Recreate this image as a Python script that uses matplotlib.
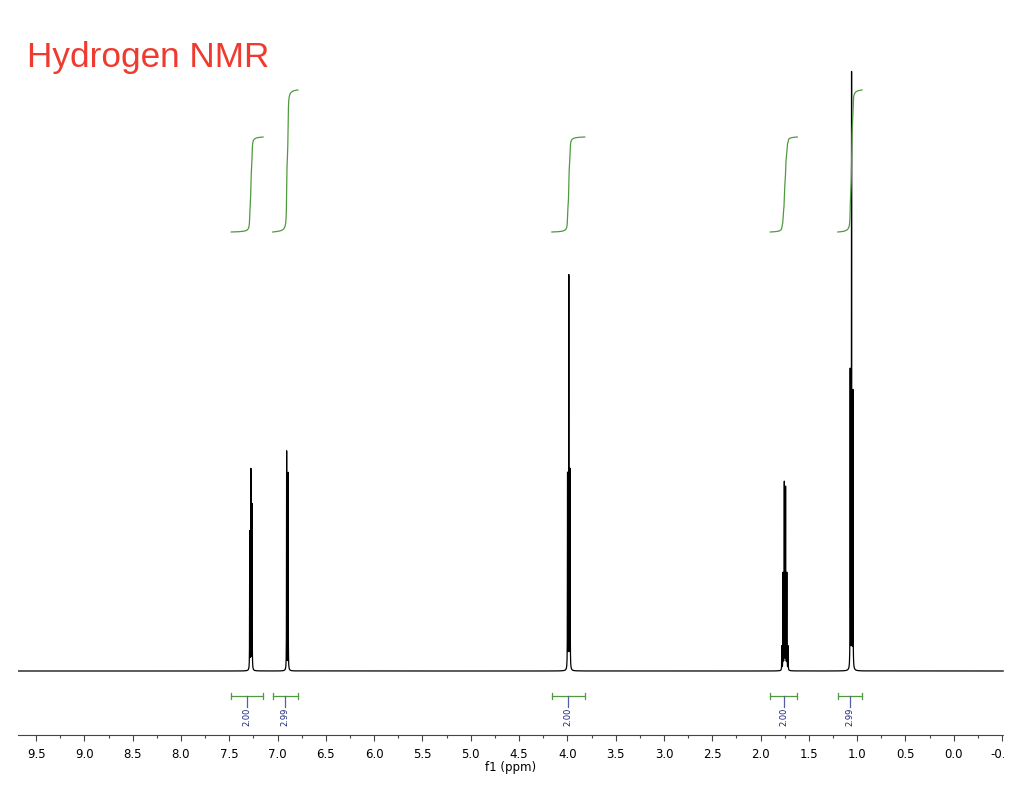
import numpy as np
import matplotlib
matplotlib.use('Agg')
from matplotlib import pyplot as plt
from matplotlib.patches import Rectangle

plt.rcParams['axes.unicode_minus'] = False

# Peak list (ppm, intensity)
peak_ppm = [7.288, 7.276, 7.264,
            6.906, 6.891,
            3.998, 3.985, 3.972,
            1.780, 1.767, 1.754, 1.741, 1.728, 1.715,
            1.072, 1.058, 1.044]
peak_height = [138, 200, 166,
               219, 198,
               196, 395, 200,
               24, 97, 188, 183, 97, 24,
               298, 596, 278]

# Integration regions (ppm) and values
int_from = [7.48, 7.05, 4.16, 1.90, 1.20]
int_to = [7.15, 6.79, 3.82, 1.62, 0.95]
int_value = [2.00, 2.99, 2.00, 2.00, 2.99]

x_ticks = [9.5, 9.0, 8.5, 8.0, 7.5, 7.0, 6.5, 6.0, 5.5, 5.0, 4.5,
           4.0, 3.5, 3.0, 2.5, 2.0, 1.5, 1.0, 0.5, 0.0, -0.5]

# Spectrum from the peak list (Lorentzian lines)
ppm = np.linspace(-0.6, 9.8, 60000)
width = 0.0012
spec = np.zeros_like(ppm)
smooth = np.zeros_like(ppm)
for p, h in zip(peak_ppm, peak_height):
    spec += h * width**2 / ((ppm - p)**2 + width**2)
    smooth += h * 0.003**2 / ((ppm - p)**2 + 0.003**2)

fig = plt.figure(figsize=(10.24, 7.91), dpi=100)
W, H = 1024, 791
ax = fig.add_axes([18 / W, (H - 735) / H, 986 / W, (735 - 40) / H])

ax.plot(ppm, spec, color='black', lw=0.9)

green = '#4f9a3f'
base = 439
per_h = 47.5
for a, b, v in zip(int_from, int_to, int_value):
    m = (ppm <= a) & (ppm >= b)
    xs = ppm[m][::-1]
    cum = np.cumsum(smooth[m][::-1])
    cum = cum / cum[-1]
    ax.plot(xs, base + cum * v * per_h, color=green, lw=0.9)
    # integral bracket under the spectrum
    ax.plot([a, b], [-25, -25], color=green, lw=0.9)
    ax.plot([a, a], [-28, -22], color=green, lw=0.9)
    ax.plot([b, b], [-28, -22], color=green, lw=0.9)
    c = (a + b) / 2
    ax.plot([c, c], [-25, -36], color='#5560a0', lw=0.9)
    ax.text(c, -37, '%.2f' % v, rotation=90, ha='center', va='top',
            fontsize=6, color='#1a237e')

ax.set_xlim(9.687, -0.520)
ax.set_ylim(-64, 631)
ax.set_xticks(x_ticks)
ax.set_xticks(np.arange(-0.25, 9.75, 0.5), minor=True)
ax.tick_params(axis='x', which='major', length=4, width=0.8, color='#444444',
               labelsize=8.5, pad=5)
ax.tick_params(axis='x', which='minor', length=2.2, width=0.8, color='#444444')
ax.set_yticks([])
for s in ['top', 'left', 'right']:
    ax.spines[s].set_visible(False)
ax.spines['bottom'].set_color('#444444')
ax.spines['bottom'].set_linewidth(0.8)
ax.set_xlabel('f1 (ppm)', fontsize=8.5, labelpad=0)

fig.text(27 / W, 1 - 57 / H, 'Hydrogen NMR', fontsize=25.3, color='#ef3b2f',
         family='Liberation Sans', va='center', ha='left')

# right edge of the original is cut off
fig.add_artist(Rectangle((1004 / W, 0), 20 / W, 1, transform=fig.transFigure,
                         color='white', zorder=10))

fig.savefig('out.png', dpi=100)
